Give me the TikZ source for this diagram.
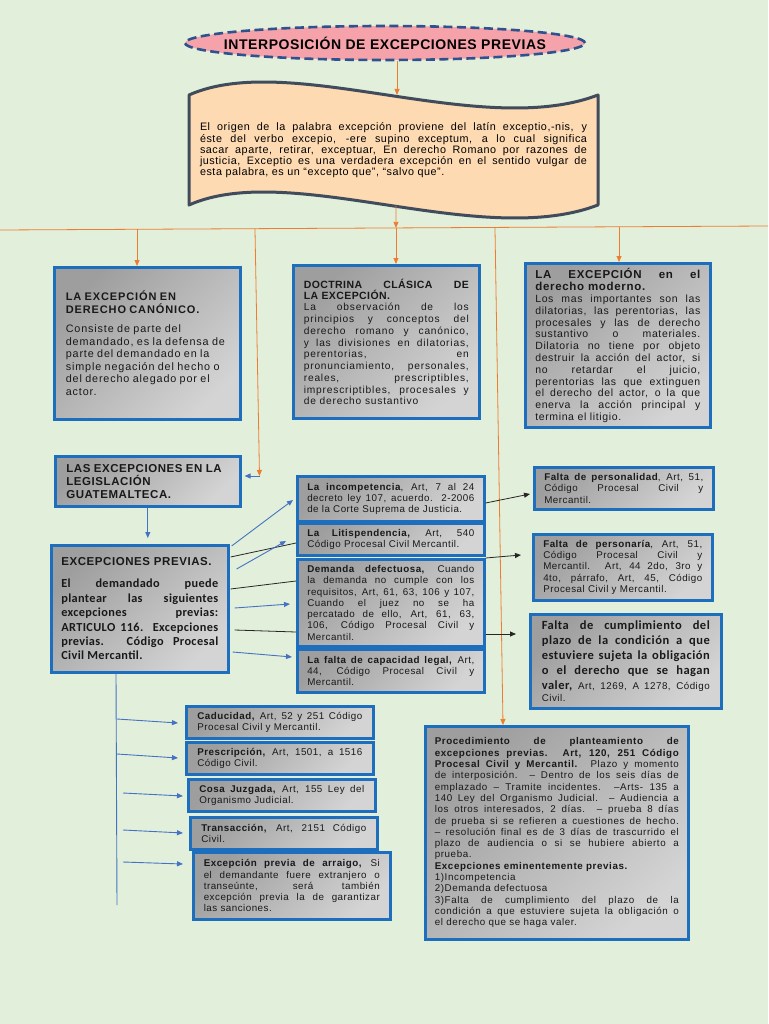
\documentclass[tikz,border=0pt]{standalone}
\usepackage{fontspec}
\setmainfont{Liberation Sans}
\newfontfamily\lsA{Liberation Sans}[LetterSpace=5]
\newfontfamily\lsB{Liberation Sans}[LetterSpace=8]
\newfontfamily\lsC{Liberation Sans}[LetterSpace=6]
\newfontfamily\lsD{Liberation Sans}[LetterSpace=5]
\newfontfamily\lsE{Liberation Sans}[LetterSpace=4]
\newfontfamily\cbA{Carlito}[LetterSpace=3]
\newfontfamily\cbB{Carlito}[LetterSpace=4]
\usetikzlibrary{arrows.meta,calc,shapes.geometric}
\definecolor{bg}{RGB}{226,239,218}
\definecolor{boxblue}{RGB}{30,110,190}
\definecolor{boxdark}{RGB}{158,158,158}
\definecolor{boxlight}{RGB}{212,212,212}
\definecolor{txt}{RGB}{25,25,25}
\definecolor{orangeL}{RGB}{237,125,49}
\definecolor{blueL}{RGB}{68,114,196}
\definecolor{titlepink}{RGB}{245,162,170}
\definecolor{titleblue}{RGB}{47,82,143}
\definecolor{peach}{RGB}{253,218,178}
\definecolor{slate}{RGB}{64,76,92}
\tolerance=10000
\pretolerance=10000
\hbadness=10000
\hyphenpenalty=10000
\exhyphenpenalty=10000
\newcommand\mfont{\lsD\fontsize{9.8}{11.3}\selectfont}
\newcommand\pfont{\lsC\fontsize{9.8}{11.3}\selectfont}
\tikzset{
  box/.style={draw=boxblue, line width=2.6pt, top color=boxdark, bottom color=boxlight, shading angle=45,
    anchor=north west, inner sep=0pt, align=justify, text=txt},
  tip/.style={-{Triangle[length=6pt,width=5pt]}},
  oline/.style={draw=orangeL, line width=0.8pt},
  oarr/.style={oline, tip},
  bline/.style={draw=blueL, line width=0.9pt},
  barr/.style={bline, tip},
  kline/.style={draw=black!85, line width=0.8pt},
  karr/.style={kline, tip},
}
\begin{document}
\begin{tikzpicture}[x=1pt,y=-1pt]
\fill[bg] (0,0) rectangle (768,1024);
\useasboundingbox (0,0) rectangle (768,1024);

% title
\node[ellipse, draw=titleblue, line width=2.6pt, dash pattern=on 9pt off 4.5pt, fill=titlepink,
  minimum width=400pt, minimum height=34pt, inner xsep=-30pt, inner ysep=0pt] (title) at (385,43)
  {\lsE\fontsize{14}{16}\selectfont\bfseries INTERPOSICIÓN DE EXCEPCIONES PREVIAS};

% banner
\draw[fill=peach, draw=slate, line width=3pt, line join=round]
  (189,95) .. controls (290,50) and (480,140) .. (598,95) -- (598,205)
  .. controls (480,250) and (290,160) .. (189,205) -- cycle;
\node[text width=387pt, align=justify, inner sep=0pt, text=black] (ban) at (393.5,150.5)
  {\lsA\fontsize{10.8}{11.25}\selectfont El origen de la palabra excepción proviene del latín exceptio,-nis, y\linebreak
   éste del verbo excepio, -ere supino exceptum, a lo cual significa\linebreak
   sacar aparte, retirar, exceptuar, En derecho Romano por razones de\linebreak
   justicia, Exceptio es una verdadera excepción en el sentido vulgar de\linebreak
   esta palabra, es un “excepto que”, “salvo que”.\par};
\coordinate (bantop) at (397,95);
\coordinate (banbot) at (396,206);

% top boxes
\node[box, minimum width=186pt, minimum height=152pt, text width=163pt, align=left] (t1) at (53,266)
  {{\lsB\fontsize{11}{13}\selectfont\bfseries LA EXCEPCIÓN EN\\DERECHO CANÓNICO.\par}
   \vspace{6pt}
   {\lsB\fontsize{10.8}{12.6}\selectfont Consiste de parte del\\demandado, es la defensa de\\parte del demandado en la\\simple negación del hecho o\\del derecho alegado por el\\actor.\par}};

\node[box, minimum width=186pt, minimum height=153pt, text width=165pt] (t2) at (292,264)
  {{\lsE\fontsize{10.5}{11}\selectfont\bfseries DOCTRINA CLÁSICA DE\linebreak LA EXCEPCIÓN.\par}
   {\lsB\fontsize{10.2}{11.75}\selectfont La observación de los\linebreak
   principios y conceptos del\linebreak
   derecho romano y canónico,\linebreak
   y las divisiones en dilatorias,\linebreak
   perentorias, en\linebreak
   pronunciamiento, personales,\linebreak
   reales, prescriptibles,\linebreak
   imprescriptibles, procesales y\linebreak
   de derecho sustantivo\par}};

\node[box, minimum width=185pt, minimum height=164pt, text width=165pt] (t3) at (524,262)
  {{\lsC\fontsize{11.5}{12.5}\selectfont\bfseries LA EXCEPCIÓN en el\linebreak derecho moderno.\par}
   {\lsC\fontsize{10.5}{11.8}\selectfont Los mas importantes son las\linebreak
   dilatorias, las perentorias, las\linebreak
   procesales y las de derecho\linebreak
   sustantivo o materiales.\linebreak
   Dilatoria no tiene por objeto\linebreak
   destruir la acción del actor, si\linebreak
   no retardar el juicio,\linebreak
   perentorias las que extinguen\linebreak
   el derecho del actor, o la que\linebreak
   enerva la acción principal y\linebreak
   termina el litigio.\par}};

% legislation and previas
\node[box, minimum width=185pt, minimum height=50pt, text width=163pt, align=left] (leg) at (54,455)
  {{\lsD\fontsize{11.5}{13}\selectfont\bfseries LAS EXCEPCIONES EN LA\\LEGISLACIÓN\\GUATEMALTECA.\par}};

\node[box, minimum width=177pt, minimum height=127pt, text width=157pt] (exc) at (50,544)
  {{\lsD\fontsize{11.5}{13}\selectfont\bfseries EXCEPCIONES PREVIAS.\par}
   \vspace{8pt}
   {\cbA\fontsize{12.3}{14.4}\selectfont\bfseries El demandado puede\linebreak
   plantear las siguientes\linebreak
   excepciones previas:\linebreak
   ARTICULO 116. Excepciones\linebreak
   previas. Código Procesal\linebreak
   Civil Mercantil.\par}};

% middle boxes
\node[box, minimum width=187pt, minimum height=45pt, text width=167pt] (m1) at (296,475)
  {\mfont\textbf{La incompetencia}, Art, 7 al 24\linebreak decreto ley 107, acuerdo. 2-2006\linebreak de la Corte Suprema de Justicia.\par};
\node[box, minimum width=187pt, minimum height=32pt, text width=167pt] (m2) at (296,522)
  {\mfont\textbf{La Litispendencia,} Art, 540\linebreak Código Procesal Civil Mercantil.\par};
\node[box, minimum width=187pt, minimum height=87pt, text width=167pt] (m3) at (296,558)
  {\mfont\textbf{Demanda defectuosa,} Cuando\linebreak la demanda no cumple con los\linebreak requisitos, Art, 61, 63, 106 y 107,\linebreak Cuando el juez no se ha\linebreak percatado de ello, Art, 61, 63,\linebreak 106, Código Procesal Civil y\linebreak Mercantil.\par};
\node[box, minimum width=187pt, minimum height=43pt, text width=167pt] (m4) at (296,648)
  {\mfont\textbf{La falta de capacidad legal,} Art,\linebreak 44, Código Procesal Civil y\linebreak Mercantil.\par};

% right boxes
\node[box, minimum width=179pt, minimum height=42pt, text width=159pt] (r1) at (533,466)
  {\mfont\textbf{Falta de personalidad}, Art, 51,\linebreak Código Procesal Civil y\linebreak Mercantil.\par};
\node[box, minimum width=179pt, minimum height=66pt, text width=159pt] (r2) at (532,533)
  {\mfont\textbf{Falta de personaría}, Art, 51,\linebreak Código Procesal Civil y\linebreak Mercantil. Art, 44 2do, 3ro y\linebreak 4to, párrafo, Art, 45, Código\linebreak Procesal Civil y Mercantil.\par};
\node[box, minimum width=191pt, minimum height=94pt, text width=168pt] (r3) at (529,613)
  {\cbB\fontsize{12.5}{15}\selectfont\bfseries Falta de cumplimiento del\linebreak
   plazo de la condición a que\linebreak
   estuviere sujeta la obligación\linebreak
   o el derecho que se hagan\linebreak
   valer, {\mdseries\lsD\fontsize{9.8}{15}\selectfont Art, 1269, A 1278, Código\vadjust{\kern-3pt}\linebreak Civil.}\par};

% bottom boxes
\node[box, minimum width=187pt, minimum height=32pt, text width=165pt] (c1) at (185,705)
  {\mfont\textbf{Caducidad,} Art, 52 y 251 Código\linebreak Procesal Civil y Mercantil.\par};
\node[box, minimum width=187pt, minimum height=32pt, text width=165pt] (c2) at (185,741)
  {\mfont\textbf{Prescripción,} Art, 1501, a 1516\linebreak Código Civil.\par};
\node[box, minimum width=187pt, minimum height=32pt, text width=165pt] (c3) at (187,778)
  {\mfont\textbf{Cosa Juzgada,} Art, 155 Ley del\linebreak Organismo Judicial.\par};
\node[box, minimum width=187pt, minimum height=32pt, text width=165pt] (c4) at (189,816)
  {\mfont\textbf{Transacción,} Art, 2151 Código\linebreak Civil.\par};
\node[box, minimum width=197pt, minimum height=67pt, text width=176pt] (c5) at (192,851)
  {\mfont\textbf{Excepción previa de arraigo,} Si\linebreak el demandante fuere extranjero o\linebreak transeúnte, será también\linebreak excepción previa la de garantizar\linebreak las sanciones.\par};

% procedure box
\node[box, minimum width=263pt, minimum height=213pt, text width=244pt] (proc) at (424,725)
  {\pfont\textbf{Procedimiento de planteamiento de\linebreak
   excepciones previas. Art, 120, 251 Código\linebreak
   Procesal Civil y Mercantil.} Plazo y momento\linebreak
   de interposición. – Dentro de los seis días de\linebreak
   emplazado – Tramite incidentes. –Arts- 135 a\linebreak
   140 Ley del Organismo Judicial. – Audiencia a\linebreak
   los otros interesados, 2 días. – prueba 8 días\linebreak
   de prueba si se refieren a cuestiones de hecho.\linebreak
   – resolución final es de 3 días de trascurrido el\linebreak
   plazo de audiencia o si se hubiere abierto a\linebreak
   prueba.\\
   \textbf{Excepciones eminentemente previas.}\\
   1)Incompetencia\\
   2)Demanda defectuosa\\
   3)Falta de cumplimiento del plazo de la\linebreak
   condición a que estuviere sujeta la obligación o\linebreak
   el derecho que se haga valer.\par};

% orange connectors
\draw[oarr] ([xshift=12pt]title.south) -- (bantop);
\coordinate (hL) at (0,230);
\coordinate (hR) at (768,226);
\draw[oline] (hL) -- (hR);
\coordinate (j1) at ($(hL)!0.1784!(hR)$);
\coordinate (j2) at ($(hL)!0.3320!(hR)$);
\coordinate (j3) at ($(hL)!0.5156!(hR)$);
\coordinate (j4) at ($(hL)!0.6445!(hR)$);
\coordinate (j5) at ($(hL)!0.8060!(hR)$);
\draw[oarr] (banbot) -- (j3);
\draw[oarr] (j1) -- (j1 |- t1.north);
\draw[oarr] (j3) -- (j3 |- t2.north);
\draw[oarr] (j5) -- (j5 |- t3.north);
\coordinate (k4) at (259.5,476);
\draw[oarr] (j2) -- (k4);
\draw[barr, shorten >=3pt] (k4) -- (leg.east |- k4);
\draw[oarr] (j4) -- ($(proc.north west)+(79,0)$);

% legislation to previas
\draw[barr, shorten >=6pt] (leg.south) -- (leg.south |- exc.north);

% previas to middle boxes
\draw[barr] ($(exc.north east)+(2,2)$) -- ($(m1.north west)+(-3,25)$);
\draw[kline] ($(exc.north east)+(1,13)$) -- ($(m2.north west)+(0,21)$);
\draw[barr] ($(exc.north east)+(7,25)$) -- ($(m2.north west)+(-10,19)$);
\draw[kline] ($(exc.north east)+(1,45)$) -- ($(m3.north west)+(0,23)$);
\draw[barr] ($(exc.north east)+(5,64)$) -- ($(m3.north west)+(-6,46)$);
\draw[kline] ($(exc.north east)+(5,86)$) -- ($(m3.north west)+(0,74)$);
\draw[barr] ($(exc.north east)+(3,108)$) -- ($(m4.north west)+(-4,9)$);

% middle to right boxes
\draw[karr] ($(m1.north east)+(0,28)$) -- ($(r1.north west)+(-3,28)$);
\draw[karr] (m3.north east) -- ($(r2.north west)+(-11,22)$);
\draw[karr] ($(m3.north east)+(0,76)$) -- ($(r3.north west)+(-13,21)$);

% previas to bottom boxes
\coordinate (vtop) at ($(exc.south west)+(66,0)$);
\coordinate (vbot) at (117,905);
\draw[bline] (vtop) -- (vbot);
\coordinate (v1) at (117,719);
\coordinate (v2) at (117,754);
\coordinate (v3) at (123,793);
\coordinate (v4) at (123,830);
\coordinate (v5) at (123,862);
\draw[barr] (v1) -- ($(c1.north west)+(-7,18)$);
\draw[barr] (v2) -- ($(c2.north west)+(-7,17)$);
\draw[barr] (v3) -- ($(c3.north west)+(-4,18)$);
\draw[barr] (v4) -- ($(c4.north west)+(-6,17)$);
\draw[barr] (v5) -- ($(c5.north west)+(-9,13)$);
\end{tikzpicture}
\end{document}
